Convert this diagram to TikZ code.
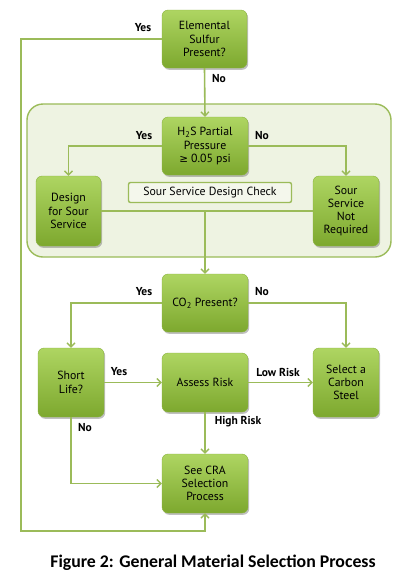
\documentclass[tikz,border=0pt]{standalone}
\usepackage{fontspec}
\setmainfont{PT Sans}
\newfontfamily\capfont{Carlito}
\newfontfamily\symfont{DejaVu Sans}
\usetikzlibrary{shadows,arrows.meta}
\definecolor{lg}{HTML}{9BBB59}
\definecolor{boxtop}{HTML}{AED562}
\definecolor{boxbot}{HTML}{7DA82E}
\definecolor{boxedge}{HTML}{8AB23E}
\definecolor{contfill}{HTML}{EEF3E2}
\definecolor{checkfill}{HTML}{F4F7EC}
\tikzset{
  greenbox/.style={rectangle, rounded corners=6pt, top color=boxtop, bottom color=boxbot,
    draw=boxedge, line width=0.4pt, align=center, inner sep=2pt,
    font=\fontsize{11.8}{13.3}\selectfont,
    drop shadow={shadow xshift=1.2pt, shadow yshift=-1.8pt, opacity=0.35, fill=black!70}},
  conn/.style={draw=lg, line width=1.6pt},
  arr/.style={conn, -{Straight Barb[length=4pt,width=8pt,line width=1.4pt]}},
  lab/.style={font=\fontsize{11.5}{12}\selectfont\bfseries, text=black, inner sep=0pt},
}
\begin{document}
\begin{tikzpicture}[x=1pt,y=-1pt]
\useasboundingbox (0,0) rectangle (407,582);
\fill[white] (0,0) rectangle (407,582);
% container
\draw[draw=lg, line width=1.4pt, fill=contfill, rounded corners=16pt] (27,104) rectangle (391,257);
% nodes
\node[greenbox, minimum width=85pt, minimum height=58pt] (sulfur) at (204.5,39) {Elemental\\Sulfur\\Present?};
\node[greenbox, minimum width=86pt, minimum height=58pt] (h2s) at (205,146) {H\textsubscript{2}S Partial\\Pressure\\{\symfont\fontsize{10.5}{13.3}\selectfont ≥} 0.05 psi};
\node[greenbox, minimum width=65pt, minimum height=70pt] (design) at (68.5,211) {Design\\for Sour\\Service};
\node[greenbox, minimum width=66pt, minimum height=70pt] (notreq) at (346,211) {Sour\\Service\\Not\\Required};
\node[rectangle, rounded corners=2pt, draw=lg, line width=1.4pt, fill=checkfill, minimum width=163pt, minimum height=20pt,
  font=\fontsize{11.8}{12}\selectfont] (check) at (210,192.5) {Sour Service Design Check};
\node[greenbox, minimum width=86pt, minimum height=58pt] (co2) at (205,303) {CO\textsubscript{2} Present?};
\node[greenbox, minimum width=66pt, minimum height=69pt] (short) at (71,382.5) {Short\\Life?};
\node[greenbox, minimum width=86pt, minimum height=59pt] (assess) at (205,382.5) {Assess Risk};
\node[greenbox, minimum width=66pt, minimum height=69pt] (select) at (346,382.5) {Select a\\Carbon\\Steel};
\node[greenbox, minimum width=86pt, minimum height=59pt] (cra) at (205,483.5) {See CRA\\Selection\\Process};
\coordinate (bl) at (21,531);
% connectors
\draw[arr] (sulfur.west) -| (bl) -| (cra.south);
\draw[arr] (sulfur.south) -- (h2s.north);
\draw[arr] (h2s.west) -| (design.north);
\draw[arr] (h2s.east) -| (notreq.north);
\draw[conn] (design.east) -- (notreq.west);
\draw[arr] (design.east -| co2.north) -- (co2.north);
\draw[arr] (co2.west) -| (short.north);
\draw[arr] (co2.east) -| (select.north);
\draw[arr] (short.east) -- (assess.west);
\draw[arr] (assess.east) -- (select.west);
\draw[arr] (assess.south) -- (cra.north);
\draw[arr] (short.south) |- (cra.west);
% labels
\node[lab] (l1) at (143,28) {Yes};
\node[lab] (l2) at (219,79) {No};
\node[lab] (l3) at (144,136) {Yes};
\node[lab] (l4) at (262,136) {No};
\node[lab] (l5) at (144,292) {Yes};
\node[lab] (l6) at (262,292) {No};
\node[lab] (l7) at (119,372) {Yes};
\node[lab] (l8) at (278,372) {Low Risk};
\node[lab] (l9) at (238,422) {High Risk};
\node[lab] (l10) at (85,428) {No};
% caption
\node[font=\capfont\bfseries\fontsize{17.8}{20}\selectfont, inner sep=0pt] (cap) at (213,563) {Figure 2: General Material Selection Process};
\end{tikzpicture}
\end{document}
